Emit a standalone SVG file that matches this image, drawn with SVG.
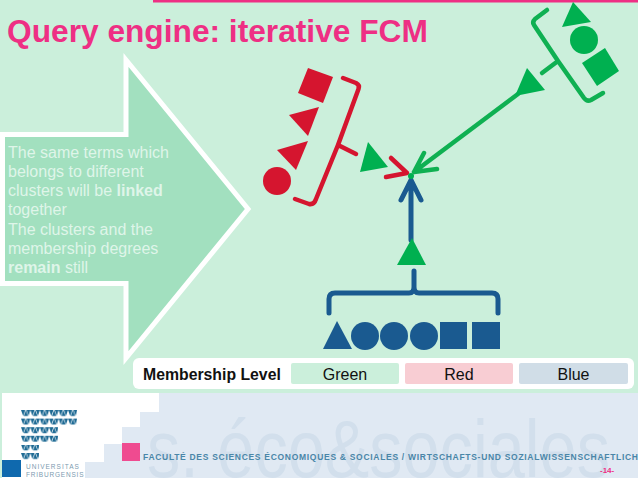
<svg xmlns="http://www.w3.org/2000/svg" width="638" height="478" viewBox="0 0 638 478">
<style>
text{font-family:"Liberation Sans",Arial,sans-serif}
.r{fill:#d5152f}.g{fill:#00b050}.b{fill:#1a5a90}
.l{fill:none;stroke-linecap:round;stroke-linejoin:round}
.rs{stroke:#d5152f}.gs{stroke:#0fb052}.bs{stroke:#1a5a90}
.t{font-size:16px;fill:#dff5e9}
.c{font-size:16px;fill:#111;text-anchor:middle}
.tri{fill:#1e6a94}
</style>
<defs>
<pattern id="p" width="9.4" height="8.6" patternUnits="userSpaceOnUse" x="21" y="410">
<path class="tri" d="M0 0h4.200l-2.100 6zM2.800 6L4.900 0 7 6zM5.600 0h3.800L7.500 6z"/>
</pattern>
</defs>
<rect width="638" height="478" fill="#cbefdb"/>
<rect x="153" y="0" width="485" height="2.500" fill="#ee2f84"/>
<g id="title"><text x="7" y="42" font-size="31.700" font-weight="700" fill="#ee2f84">Query engine: iterative FCM</text></g>
<g id="footer">
<rect x="2" y="393" width="636" height="85" fill="#e0e9f3"/>
<text x="147" y="477" font-size="82" fill="#d2dfec" font-family="Lato,sans-serif" font-weight="300" textLength="463" lengthAdjust="spacingAndGlyphs">s. éco&amp;sociales</text>
<path d="M2 393H159V412H140V427H122V444H104V462H85V478H2z" fill="#fff"/>
<rect x="21" y="410" width="56" height="15" fill="url(#p)"/>
<rect x="21" y="427" width="37" height="15" fill="url(#p)"/>
<rect x="21" y="445" width="18" height="15" fill="url(#p)"/>
<rect x="2" y="460" width="19" height="17" fill="#0f69ae"/>
<rect x="122" y="443" width="18" height="18" fill="#ef4b90"/>
<text x="26" y="469" font-size="6.500" fill="#7c9bb0" letter-spacing="1">UNIVERSITAS</text>
<text x="26" y="477" font-size="6.500" fill="#7c9bb0" letter-spacing=".8">FRIBURGENSIS</text>
<text x="143" y="460" font-size="8.500" font-weight="700" fill="#4a86a8" textLength="495" lengthAdjust="spacing">FACULTÉ DES SCIENCES ÉCONOMIQUES &amp; SOCIALES / WIRTSCHAFTS-UND SOZIALWISSENSCHAFTLICH</text>
<text x="600" y="473" font-size="8" font-weight="700" fill="#ee2f84">-14-</text>
</g>
<g id="big-arrow">
<path d="M-4 134.500H126V60L248 209 126 358V283.500H2.500V134.500" fill="#a2e0bf" stroke="#fff" stroke-width="5"/>
<text class="t" x="8" y="158">The same terms which</text>
<text class="t" x="8" y="177">belongs to different</text>
<text class="t" x="8" y="196">clusters will be <tspan font-weight="700">linked</tspan></text>
<text class="t" x="8" y="215">together</text>
<text class="t" x="8" y="235">The clusters and the</text>
<text class="t" x="8" y="254">membership degrees</text>
<text class="t" x="8" y="273"><tspan font-weight="700">remain</tspan> still</text>
</g>
<g id="legend">
<rect x="133" y="358" width="501" height="31" rx="6" fill="#fff"/>
<text x="143" y="380" font-size="15.800" font-weight="700" fill="#111">Membership Level</text>
<rect x="291" y="363" width="108" height="21" rx="2" fill="#cbefdb"/>
<rect x="405" y="363" width="108" height="21" rx="2" fill="#f8cdd3"/>
<rect x="519" y="363" width="109" height="21" rx="2" fill="#d0dde7"/>
<text class="c" x="345" y="380">Green</text>
<text class="c" x="459" y="380">Red</text>
<text class="c" x="573.500" y="380">Blue</text>
</g>
<g id="red-cluster">
<path class="r" d="M308 68L333 77 323 103 298 93z"/>
<path class="r" d="M319 107L289 115 308 136z"/>
<path class="r" d="M308 141L277 150 296 170z"/>
<circle class="r" cx="277" cy="181" r="14"/>
<path class="l rs" stroke-width="4.500" d="M343 78L356 83Q360 85 358.500 89L338 145 356 154M338 145L316 199Q314 205 309 204L295 199"/>
</g>
<g id="green-cluster">
<path class="g" d="M573 2L591 22 562 27z"/>
<circle class="g" cx="584" cy="40" r="14"/>
<path class="g" d="M605 48L619 71 597 86 582 63z"/>
<path class="l gs" stroke-width="4.500" d="M547 10L535 19Q532 22 534 25L558 61 542 73M558 61L584 98Q587 102 591 100L603 93"/>
</g>
<g id="blue-cluster">
<path class="b" d="M337 321L352 349H323z"/>
<circle class="b" cx="365" cy="336" r="14"/>
<circle class="b" cx="394" cy="336" r="14"/>
<circle class="b" cx="424" cy="336" r="14"/>
<rect class="b" x="440" y="322" width="27" height="27"/>
<rect class="b" x="472" y="322" width="28" height="27"/>
<path class="l bs" stroke-width="5" stroke-linecap="butt" d="M329 313V299Q329 293 335 293H409Q414 293 414 287V271M414 287Q414 293 419 293H492Q498 293 498 299V313"/>
</g>
<g id="connectors">
<path class="l gs" stroke-width="4.500" d="M518 94L414 172M424 153L414 172 437 169"/>
<path class="l rs" stroke-width="4.500" d="M386 177L407 173 391 158"/>
<path class="l bs" stroke-width="5" d="M411 240V180M401 200L411 180 421 200"/>
<path class="g" d="M527 68L545 90 515 96z"/>
<path class="g" d="M368 142L388 167 360 172z"/>
<path class="g" d="M412 238L426 265H397z"/>
<circle class="g" cx="411" cy="176" r="3"/>
</g>
</svg>
